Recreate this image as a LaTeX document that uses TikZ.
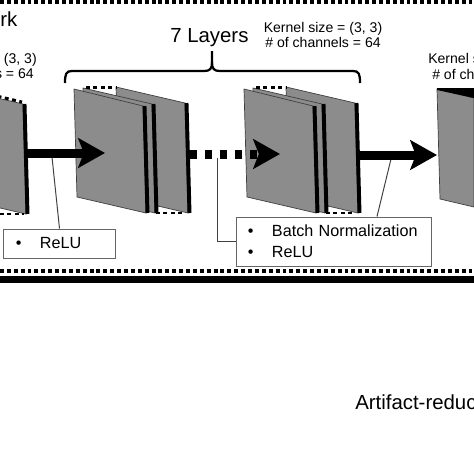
\documentclass[tikz,border=0pt]{standalone}
\usepackage{fontspec}
\setmainfont{Liberation Sans}
\usetikzlibrary{arrows.meta,calc}
\tikzset{
  fatarr/.style={-{Stealth[length=19pt,width=21pt,inset=4pt]},line width=6.4pt},
  dotarr/.style={fatarr,dash pattern=on 5pt off 5.7pt},
  callout/.style={draw=black!75,line width=0.7pt},
  sepdots/.style={line width=2.8pt,dash pattern=on 2.8pt off 2.1pt},
  plateface/.style={fill=black!45,draw=black!75,line width=0.5pt},
  plateside/.style={line width=2.8pt,black},
  platedots/.style={line width=2.1pt,dash pattern=on 2.8pt off 2.5pt},
  notebox/.style={draw=black!60,line width=0.7pt,align=left,
                  font=\fontsize{11.5}{14.9}\selectfont},
  bigtxt/.style={inner sep=0pt,font=\fontsize{14.5}{17}\selectfont},
  smalltxt/.style={inner sep=0pt,font=\fontsize{10}{12}\selectfont}
}
\newcommand{\bul}{\makebox[0.6cm][l]{\textbullet}}

\begin{document}
\begin{tikzpicture}[x=0.025cm,y=-0.025cm]
\useasboundingbox (0,0) rectangle (474,474);

% frame lines
\draw[sepdots] (0,2) -- (474,2);
\draw[sepdots] (0,271) -- (474,271);
\draw[line width=5pt] (0,279.5) -- (474,279.5);

% texts
\node[bigtxt, anchor=base west] (rk) at (0,26) {rk};
\node[bigtxt, anchor=base west] (layers) at (170,42) {7 Layers};
\node[smalltxt, anchor=base] (ks1) at (323,32) {Kernel size = (3, 3)};
\node[smalltxt, anchor=base] (ch1) at (323,47) {\# of channels = 64};
\node[smalltxt, anchor=base east] (ks0) at (37,63) {(3, 3)};
\node[smalltxt, anchor=base east] (ch0) at (34,78) {s = 64};
\node[smalltxt, anchor=base west] (ks2) at (428,63) {Kernel s};
\node[smalltxt, anchor=base west] (ch2) at (432,79) {\# of ch};
\node[bigtxt, anchor=base west] (art) at (355,409) {Artifact-reduc};

% brace over the 7 layers
\draw[line width=1.6pt] (65,83) .. controls (65,74) and (66,71) .. (72,71) -- (204,71)
  .. controls (210,71) and (212,69) .. (212,62) -- (212,51);
\draw[line width=1.6pt] (212,62) .. controls (212,69) and (214,71) .. (220,71) -- (353,71)
  .. controls (359,71) and (360,74) .. (360,83);

% input plate
\path[plateface] (-46,88) -- (23,104) -- (26,214) -- (-43,198) -- cycle;
\draw[plateside] (24.5,104) -- (27.5,214);
\draw[platedots] (-46,86) -- (22,102);
\draw[platedots] (0,214) -- (24,214);

% stacks of layers
\foreach \sx in {74,244} {
  \begin{scope}[shift={(\sx,89)}]
    \path[plateface] (42,-2) -- (111,14) -- (114,124) -- (45,108) -- cycle;
    \draw[plateside] (112.5,14) -- (115.5,124);
    \path[plateface] (9,-1) -- (78,15) -- (81,124) -- (12,107) -- cycle;
    \draw[plateside] (79.5,15) -- (82.5,124);
    \path[plateface] (0,0) -- (69,17) -- (72,124) -- (3,108) -- cycle;
    \draw[plateside] (70.5,17) -- (73.5,124);
    \draw[platedots] (12,-1.5) -- (42,-1.5);
    \draw[platedots] (82,124) -- (111,124);
  \end{scope}
}

% output plate
\path[plateface] (437,89) -- (474,98) -- (474,207) -- (440,199) -- cycle;
\fill (437,88) -- (474,88) -- (474,98) -- (437,90) -- cycle;

% notes
\node[notebox, minimum width=2.775cm, minimum height=0.725cm, inner xsep=0.3cm,
      text width=2.175cm] (relu) at (59.5,243.5) {\bul ReLU};
\node[notebox, minimum width=4.85cm, minimum height=1.225cm, inner xsep=0.275cm,
      text width=4.3cm] (bn) at (334,241.5) {\bul Batch Normalization\\\bul ReLU};

\coordinate (in0) at (27,153);
\coordinate (tip1) at (105,153);
\coordinate (out1) at (190,154);
\coordinate (tip2) at (280,154);
\coordinate (out2) at (360,155);
\coordinate (in3) at (437,155);
\coordinate (k1) at (52,157);
\coordinate (k2) at (217,158);
\coordinate (k3) at (391,159);

\draw[callout] (k1) -- (relu.north);
\draw[callout] (k2) |- (bn.west);
\draw[callout] (k3) -- ($(bn.north)+(43,0)$);

\draw[fatarr] (in0) -- (tip1);
\draw[dotarr] (out1) -- (tip2);
\draw[fatarr] (out2) -- (in3);
\end{tikzpicture}
\end{document}
